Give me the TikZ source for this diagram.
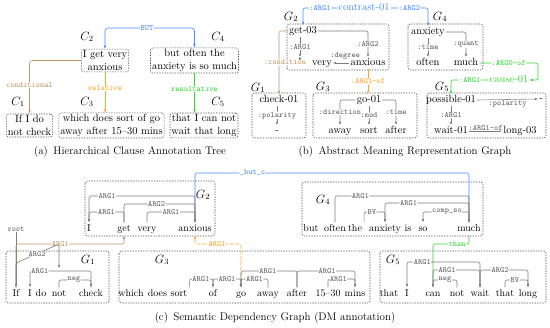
\documentclass[tikz,border=0pt]{standalone}
\usepackage{amsmath}
\usetikzlibrary{arrows.meta}
\definecolor{butblue}{RGB}{70,140,255}
\definecolor{condtan}{RGB}{190,150,100}
\definecolor{relorange}{RGB}{255,165,40}
\definecolor{resgreen}{RGB}{50,215,50}
\definecolor{edgegray}{RGB}{125,125,125}
\definecolor{taggray}{RGB}{95,95,95}
\definecolor{boxgray}{RGB}{80,80,80}

\tikzset{
  clause/.style={draw=boxgray, line width=0.55pt, dash pattern=on 1.3pt off 1.3pt, rounded corners=2.5pt, align=center, inner sep=1.5pt, font=\fontsize{10.5}{12.5}\selectfont},
  grp/.style={draw=boxgray, line width=0.55pt, dash pattern=on 1.3pt off 1.3pt, rounded corners=2.5pt},
  glab/.style={font=\large, inner sep=0pt},
  tag/.style={font=\fontsize{8}{9}\ttfamily, fill=white, inner sep=0.4pt, text=taggray},
  arr/.style={-{Latex[length=3.2pt,width=2.6pt]}, line width=0.6pt},
  concept/.style={font=\fontsize{10.5}{12}\selectfont, inner sep=1pt, text height=7.2pt, text depth=2.2pt},
  amr/.style={arr, draw=edgegray, rounded corners=2pt},
  word/.style={font=\fontsize{10}{12}\selectfont, inner sep=2pt, text height=7pt, text depth=2pt},
  dm/.style={arr, draw=edgegray, rounded corners=2pt},
  caption/.style={font=\fontsize{11}{13}\selectfont}
}
% arc of the dependency graph: from, to, height, label pos, label
\newcommand{\dmarc}[6][]{\draw[dm,#1] (#2) -- (#2 |- 0,#4) -- node[tag,pos=#5]{#6} (#3 |- 0,#4) -- (#3);}

\begin{document}
\begin{tikzpicture}[x=1pt,y=-1pt]
\useasboundingbox (0,0) rectangle (550,328);

% (a) clause tree
\node[clause] (c2) at (105,60.5) {I get very\\anxious};
\node[clause] (c4) at (194.5,60.5) {but often the\\anxiety is so much};
\node[clause] (c1) at (29.5,125.5) {If I do\\not check};
\node[clause] (c3) at (111.5,125.5) {which does sort of go\\away after 15--30 mins};
\node[clause] (c5) at (204,125.5) {that I can not\\wait that long};
\node[glab] (c2lab) at (87,37) {$C_2$};
\node[glab] (c4lab) at (218,37) {$C_4$};
\node[glab] (c1lab) at (18,102) {$C_1$};
\node[glab] (c3lab) at (87,102) {$C_3$};
\node[glab] (c5lab) at (218,102) {$C_5$};
\node[tag,text=butblue] (but) at (147,28) {BUT};
\draw[arr,butblue,rounded corners=3pt] (but) -| (c2.north);
\draw[arr,butblue,rounded corners=3pt] (but) -| (c4.north);
\draw[arr,condtan,rounded corners=3pt] (c2.west) -| node[tag,text=condtan,pos=0.73]{conditional} (c1.north);
\draw[arr,relorange] (c2.south) -- node[tag,text=relorange,pos=0.4]{relative} (c2.south |- c3.north);
\draw[arr,resgreen] (c4.south) -- node[tag,text=resgreen,pos=0.4]{resultative} (c4.south |- c5.north);
\node[caption] (capa) at (130,152) {(a)\enspace Hierarchical Clause Annotation Tree};

% (b) AMR graph
\draw[grp] (287,24) rectangle (389,70);
\draw[grp] (408,24) rectangle (483,70);
\draw[grp] (252,93) rectangle (306,138);
\draw[grp] (313,93) rectangle (417,138);
\draw[grp] (427,93) rectangle (546,138);
\node[glab] (g2lab) at (291,17) {$G_2$};
\node[glab] (g4lab) at (440,17) {$G_4$};
\node[glab] (g1lab) at (258,88) {$G_1$};
\node[glab] (g3lab) at (323,87) {$G_3$};
\node[glab] (g5lab) at (442,87) {$G_5$};
\node[concept,text=butblue] (contrast) at (364,8) {contrast-01};
\node[concept] (get) at (303,31) {get-03};
\node[concept] (gI) at (300,63) {I};
\node[concept] (very) at (322,63) {very};
\node[concept] (anx) at (368,63) {anxious};
\node[concept] (anxiety) at (428,32) {anxiety};
\node[concept] (often) at (428,63) {often};
\node[concept] (much) at (466,63) {much};
\node[concept,text=resgreen] (cause) at (509,80) {cause-01};
\node[concept] (check) at (279,100) {check-01};
\node[concept] (minusA) at (277,131) {-};
\node[concept] (go) at (369,100) {go-01};
\node[concept] (away) at (340,131) {away};
\node[concept] (sort) at (369,131) {sort};
\node[concept] (after) at (396,131) {after};
\node[concept] (possible) at (451,100) {possible-01};
\node[concept] (minusB) at (541,99) {-};
\node[concept] (wait) at (451,131) {wait-01};
\node[concept] (long) at (520,131) {long-03};
\coordinate (turn) at (538,63);
\draw[amr,draw=butblue] (contrast.west) -| node[tag,text=butblue,pos=0.25]{:ARG1} (get.north);
\draw[amr,draw=butblue] (contrast.east) -| node[tag,text=butblue,pos=0.25]{:ARG2} (anxiety.north);
\draw[amr] (gI |- get.south) -- node[tag]{:ARG1} (gI.north);
\draw[amr] (get.east) -| node[tag,pos=0.75]{:ARG2} (anx.north);
\draw[amr] (anx.west) -- node[tag,above=3pt,xshift=4pt]{:degree} (very.east);
\draw[amr,draw=condtan] (get.west) -| node[tag,text=condtan,pos=0.75,xshift=6pt]{:condition} (check.north);
\draw[amr] (minusA |- check.south) -- node[tag]{:polarity} (minusA.north);
\draw[amr,draw=relorange] (anx.south) -- node[tag,text=relorange]{:ARG1-of} (anx.south |- go.north);
\draw[amr] (go.west) -| node[tag,pos=0.75]{:direction} (away.north);
\draw[amr] (go.south) -- node[tag]{:mod} (sort.north);
\draw[amr] (go.east) -| node[tag,pos=0.75]{:time} (after.north);
\draw[amr] (anxiety.south) -- node[tag]{:time} (often.north);
\draw[amr] (anxiety.east) -| node[tag,pos=0.75]{:quant} (much.north);
\draw[amr,draw=resgreen] (much.east) -- node[tag,text=resgreen]{:ARG0-of} (turn) |- (cause.east);
\draw[amr,draw=resgreen] (cause.west) -| node[tag,text=resgreen,pos=0.25]{:ARG1} (possible.north);
\draw[amr] (possible.east) -- node[tag,below=0pt]{:polarity} (minusB.west);
\draw[amr] (possible.south) -- node[tag]{:ARG1} (wait.north);
\draw[amr] (wait.east) -- node[tag,above=0pt]{:ARG1-of} (long.west);
\node[caption] (capb) at (405,152) {(b)\enspace Abstract Meaning Representation Graph};

% (c) DM graph
\draw[grp] (85,181) rectangle (215,236);
\draw[grp] (302,182) rectangle (483,236);
\draw[grp] (6,251) rectangle (109,303);
\draw[grp] (119,251) rectangle (370,303);
\draw[grp] (380,251) rectangle (546,303);
\node[glab] (h2lab) at (203,195) {$G_2$};
\node[glab] (h4lab) at (323,200) {$G_4$};
\node[glab] (h1lab) at (88,260) {$G_1$};
\node[glab] (h3lab) at (162,260) {$G_3$};
\node[glab] (h5lab) at (393,260) {$G_5$};
\node[tag,fill=none] (root) at (16,229) {root};
\node[word] (w2I) at (89,229) {I};
\node[word] (w2get) at (124,229) {get};
\node[word] (w2very) at (147,229) {very};
\node[word] (w2anx) at (195,229) {anxious};
\node[word] (w4but) at (311,229) {but};
\node[word] (w4often) at (335,229) {often};
\node[word] (w4the) at (355,229) {the};
\node[word] (w4anxiety) at (385,229) {anxiety};
\node[word] (w4is) at (408,229) {is};
\node[word] (w4so) at (423,229) {so};
\node[word] (w4much) at (469,229) {much};
\node[word] (w1if) at (16,294) {If};
\node[word] (w1I) at (30,294) {I};
\node[word] (w1do) at (41,294) {do};
\node[word] (w1not) at (59,294) {not};
\node[word] (w1check) at (91,294) {check};
\node[word] (w3which) at (131,294) {which};
\node[word] (w3does) at (157.5,294) {does};
\node[word] (w3sort) at (179,294) {sort};
\node[word] (w3of) at (213,294) {of};
\node[word] (w3go) at (241,294) {go};
\node[word] (w3away) at (268,294) {away};
\node[word] (w3after) at (297,294) {after};
\node[word] (w3num) at (328,294) {15--30};
\node[word] (w3mins) at (355,294) {mins};
\node[word] (w5that) at (389,294) {that};
\node[word] (w5I) at (407,294) {I};
\node[word] (w5can) at (433,294) {can};
\node[word] (w5not) at (457,294) {not};
\node[word] (w5wait) at (480,294) {wait};
\node[word] (w5that2) at (505,294) {that};
\node[word] (w5long) at (528,294) {long};
% coloured inter-clause arcs
\dmarc[draw=butblue]{w2anx.north}{w4much.north}{173}{0.21}{\textcolor{butblue}{\_but\_c}}
\draw[dm] (root) -- (w1if.north);
\dmarc[draw=condtan]{w1if.north}{w2get.south}{244}{0.41}{\textcolor{condtan}{ARG1}}
\dmarc[draw=relorange,dash pattern=on 4pt off 1.5pt]{w3go.north}{w2anx.south}{244}{0.52}{\textcolor{relorange}{ARG1}}
\dmarc[draw=resgreen]{w4much.south}{w5can.north}{244}{0.33}{\textcolor{resgreen}{than}}
% G2
\dmarc{w2anx.north}{w2I.north}{196}{0.83}{ARG1}
\dmarc{w2get.north}{w2anx.north}{204}{0.46}{ARG2}
\dmarc{w2get.north}{w2I.north}{212}{0.5}{ARG1}
\dmarc{w2very.north}{w2anx.north}{212}{0.5}{ARG1}
% G4
\dmarc{w4often.north}{w4much.north}{196}{0.19}{ARG1}
\dmarc{w4much.north}{w4anxiety.north}{203}{0.72}{ARG1}
\dmarc{w4the.north east}{w4anxiety.north}{212}{0.37}{BV}
\dmarc{w4much.north}{w4so.north}{212}{0.48}{comp\_so}
% G1
\dmarc{w1if.north}{[yshift=19pt]w1not.north}{263}{0.49}{ARG2}
\dmarc{w1check.north}{w1I.north}{271}{0.84}{ARG1}
\dmarc{w1not.north}{w1check.north}{280}{0.47}{neg}
% G3
\dmarc{w3sort.north east}{w3of.north}{279}{0.48}{ARG1}
\dmarc{w3of.north}{w3go.north}{279}{0.5}{ARG1}
\dmarc{w3away.north}{w3go.north}{279}{0.5}{ARG1}
\dmarc{w3after.north}{w3go.north}{271}{0.52}{ARG1}
\dmarc{w3after.north}{w3mins.north}{271}{0.52}{ARG1}
\dmarc{w3num.north}{w3mins.north}{279}{0.38}{ARG1}
% G5
\dmarc{w5wait.north}{w5I.north}{262}{0.79}{ARG1}
\dmarc{w5can.north}{w5wait.north}{270}{0.3}{ARG1}
\dmarc{w5wait.north}{w5long.north}{270}{0.42}{ARG2}
\dmarc{w5not.north}{w5can.north}{280}{0.5}{neg}
\dmarc{w5that2.north}{w5long.north}{280}{0.43}{BV}
\node[caption] (capc) at (275,318) {(c)\enspace Semantic Dependency Graph (DM annotation)};
\end{tikzpicture}
\end{document}
